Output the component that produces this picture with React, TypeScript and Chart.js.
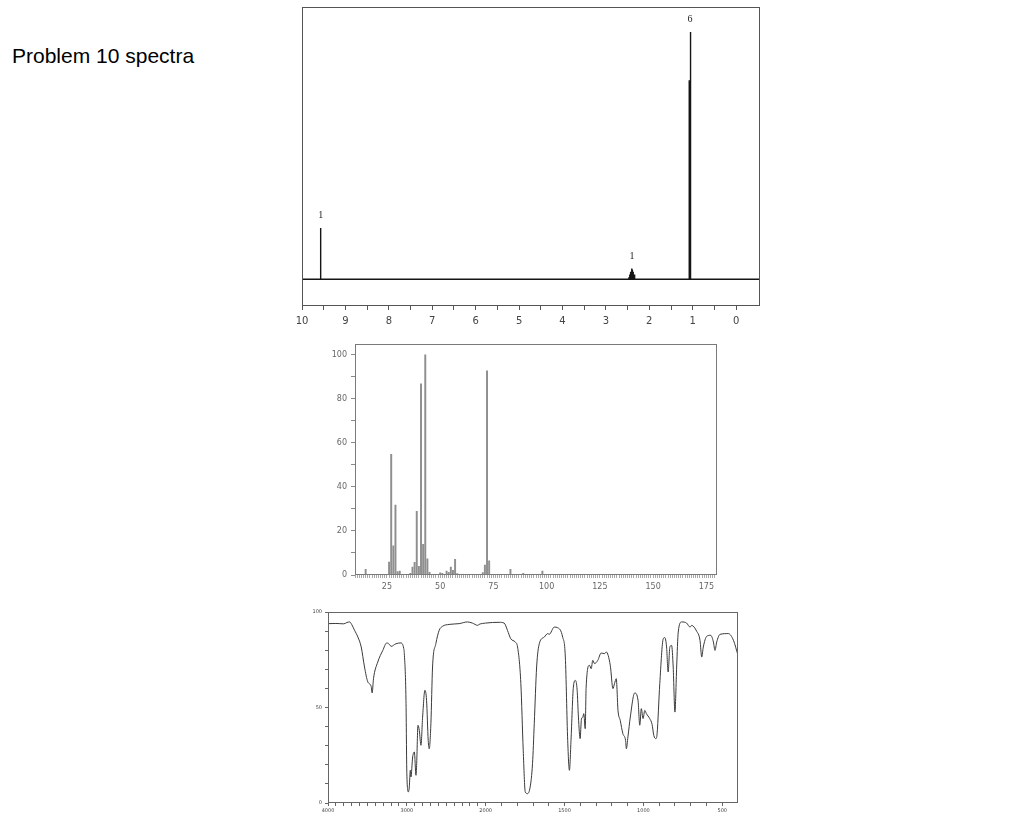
import React, { useEffect, useRef } from "react";
import { Chart, registerables } from "chart.js";

Chart.register(...registerables);

// ---------- 1H NMR (ppm) ----------
const nmrShift = [9.57, 2.47, 2.45, 2.43, 2.41, 2.4, 2.39, 2.37, 2.35, 2.33, 1.08, 1.05];
const nmrHeight = [18.8, 0.8, 1.8, 2.8, 3.6, 4.0, 3.6, 2.8, 1.8, 0.8, 73.1, 90.8];
const nmrIntegralShift = [9.57, 2.4, 1.06];
const nmrIntegralTop = [18.8, 4.0, 90.8];
const nmrIntegralText = ["1", "1", "6"];
const nmrTickValues = [10, 9.5, 9, 8.5, 8, 7.5, 7, 6.5, 6, 5.5, 5, 4.5, 4, 3.5, 3, 2.5, 2, 1.5, 1, 0.5, 0];
const nmrRange = { min: -0.55, max: 10 };

// ---------- Mass spectrum (m/z, relative intensity) ----------
const msMz = [15, 26, 27, 28, 29, 30, 31, 36, 37, 38, 39, 40, 41, 42, 43, 44, 45, 50, 51, 53, 54, 55, 56, 57, 58, 70, 71, 72, 73, 83, 89, 98];
const msIntensity = [2.6, 5.9, 54.8, 13.2, 31.7, 1.5, 1.8, 0.8, 3.6, 5.8, 28.9, 3.9, 86.8, 13.9, 100, 7.4, 1.2, 1.0, 0.8, 1.8, 1.2, 3.6, 2.1, 7.1, 0.6, 1.1, 4.5, 92.7, 6.4, 2.6, 0.8, 1.8];
const msYTicks = [0, 10, 20, 30, 40, 50, 60, 70, 80, 90, 100];
const msXLabels = [25, 50, 75, 100, 125, 150, 175];

// ---------- IR (wavenumber cm-1, %T) ----------
const irWavenumber = [
  4000, 3900, 3800, 3760, 3726, 3700, 3663, 3621, 3579, 3537, 3495, 3453, 3440, 3423, 3369, 3305, 3255, 3220,
  3200, 3137, 3074, 3040, 3032, 3011, 3000, 2981, 2969, 2956, 2948, 2926, 2905, 2884, 2876, 2859, 2842, 2821,
  2800, 2771, 2750, 2729, 2716, 2695, 2674, 2632, 2590, 2548, 2463, 2337, 2232, 2169, 2100, 2084, 2000, 1915,
  1883, 1862, 1841, 1813, 1798, 1777, 1762, 1749, 1735, 1718, 1703, 1692, 1677, 1660, 1628, 1607, 1597, 1565,
  1544, 1512, 1495, 1480, 1469, 1459, 1444, 1431, 1420, 1412, 1401, 1393, 1384, 1378, 1369, 1363, 1342, 1331,
  1321, 1310, 1289, 1268, 1246, 1236, 1210, 1193, 1183, 1172, 1161, 1147, 1130, 1113, 1108, 1098, 1083, 1055,
  1034, 1023, 1013, 1002, 991, 981, 960, 945, 934, 921, 913, 896, 874, 864, 853, 843, 832, 821, 811, 800, 789,
  779, 757, 726, 704, 694, 662, 641, 630, 620, 598, 573, 556, 546, 535, 514, 461, 429, 400,
];
const irTransmittance = [
  93.9, 94.0, 93.8, 94.5, 94.8, 93.5, 90.4, 86.9, 81.7, 71.2, 63.4, 61.1, 57.6, 65.1, 73.8, 79.9, 83.8, 83.0,
  82.0, 83.4, 83.8, 81.0, 78.2, 53.8, 15.4, 5.8, 8.4, 17.1, 13.6, 24.1, 26.7, 14.5, 19.7, 40.7, 38.0, 30.2,
  45.0, 59.0, 53.8, 32.8, 28.4, 41.5, 71.2, 83.4, 90.4, 92.5, 93.5, 93.9, 94.8, 94.2, 93.0, 93.5, 94.2, 94.6,
  94.2, 90.4, 86.0, 84.3, 81.7, 62.5, 27.6, 5.8, 4.9, 8.4, 20.6, 41.5, 71.2, 83.4, 86.9, 88.7, 88.3, 92.1,
  91.8, 86.9, 76.4, 32.8, 17.1, 32.8, 60.7, 64.2, 59.0, 45.0, 33.7, 43.9, 45.0, 46.8, 38.9, 60.7, 72.1, 70.3,
  74.7, 73.0, 74.7, 78.5, 78.2, 79.1, 72.1, 59.9, 62.5, 65.1, 48.5, 43.3, 36.3, 32.8, 28.4, 34.6, 45.0, 57.6,
  53.8, 40.7, 49.4, 44.2, 48.5, 46.8, 44.2, 41.2, 35.4, 33.7, 36.3, 62.5, 86.0, 86.6, 81.7, 68.6, 81.7, 82.5, 71.2, 47.6, 71.2,
  89.5, 94.8, 94.2, 92.1, 93.0, 89.9, 85.2, 76.4, 81.7, 87.3, 87.8, 84.3, 79.9, 84.3, 88.3, 88.7, 85.2, 77.3,
];
const irLabelled = [4000, 3000, 2000, 1500, 1000, 500];
const irYTicks = [0, 10, 20, 30, 40, 50, 60, 70, 80, 90, 100];

// The IR axis is compressed 2:1 above 2000 cm-1; map wavenumber to axis units and back.
const irAxis = (wn: number) => (wn >= 2000 ? (4000 - wn) / 2 : 1000 + (2000 - wn));
const irWavenumberOf = (u: number) => (u <= 1000 ? 4000 - 2 * u : 2000 - (u - 1000));

const framePlugin = (color: string) => ({
  id: "frame",
  afterDraw(chart: any) {
    const { ctx, chartArea } = chart;
    const { left, top, right, bottom } = chartArea;
    ctx.save();
    ctx.strokeStyle = color;
    ctx.lineWidth = 1;
    ctx.strokeRect(Math.round(left) + 0.5, Math.round(top) + 0.5, Math.round(right - left) - 1, Math.round(bottom - top) - 1);
    ctx.restore();
  },
});

const integralPlugin = {
  id: "integrals",
  afterDatasetsDraw(chart: any) {
    const { ctx } = chart;
    const x = chart.scales.x;
    const y = chart.scales.y;
    ctx.save();
    ctx.font = '10px "Liberation Serif"';
    ctx.fillStyle = "#222";
    ctx.textAlign = "center";
    ctx.textBaseline = "middle";
    nmrIntegralShift.forEach((s, i) => {
      ctx.fillText(nmrIntegralText[i], x.getPixelForValue(s), y.getPixelForValue(nmrIntegralTop[i]) - 12.5);
    });
    ctx.restore();
  },
};

function nmrTrace() {
  const pts: { x: number; y: number }[] = [{ x: nmrRange.max, y: 0 }];
  const order = nmrShift.map((s, i) => i).sort((a, b) => nmrShift[b] - nmrShift[a]);
  order.forEach((i) => {
    pts.push({ x: nmrShift[i], y: 0 }, { x: nmrShift[i], y: nmrHeight[i] }, { x: nmrShift[i], y: 0 });
  });
  pts.push({ x: nmrRange.min, y: 0 });
  return pts;
}

const base = {
  animation: false as const,
  responsive: false,
  maintainAspectRatio: false,
  devicePixelRatio: 1,
  events: [] as any[],
};

function nmrConfig(): any {
  return {
    type: "line",
    data: {
      datasets: [
        { data: nmrTrace(), borderColor: "#151515", borderWidth: 1.4, pointRadius: 0, tension: 0, fill: false },
      ],
    },
    options: {
      ...base,
      layout: { padding: { left: 12, right: 10, top: 7, bottom: 4 } },
      plugins: { legend: { display: false }, tooltip: { enabled: false } },
      scales: {
        x: {
          type: "linear",
          min: nmrRange.min,
          max: nmrRange.max,
          reverse: true,
          afterBuildTicks: (s: any) => {
            s.ticks = nmrTickValues.map((v) => ({ value: v }));
          },
          afterFit: (s: any) => {
            s.height = 30;
          },
          grid: { drawOnChartArea: false, tickLength: 4, color: "#555" },
          border: { display: false },
          ticks: {
            autoSkip: false,
            maxRotation: 0,
            padding: 5,
            color: "#444",
            font: { family: "DejaVu Sans", size: 10 },
            callback: (v: number) => (Number.isInteger(v) ? String(v) : ""),
          },
        },
        y: { display: false, min: -9.8, max: 100 },
      },
    },
    plugins: [framePlugin("#555"), integralPlugin],
  };
}

function msConfig(): any {
  const xTicks: number[] = [];
  for (let m = 10; m <= 179; m++) xTicks.push(m);
  return {
    type: "bar",
    data: {
      datasets: [
        {
          data: msMz.map((m, i) => ({ x: m, y: msIntensity[i] })),
          backgroundColor: "#8f8f8f",
          borderWidth: 0,
          barThickness: 1.3,
        },
      ],
    },
    options: {
      ...base,
      layout: { padding: { left: 0, right: 13, top: 8, bottom: 0 } },
      plugins: { legend: { display: false }, tooltip: { enabled: false } },
      scales: {
        x: {
          type: "linear",
          min: 10,
          max: 180,
          offset: false,
          afterBuildTicks: (s: any) => {
            s.ticks = xTicks.map((v) => ({ value: v }));
          },
          afterFit: (s: any) => {
            s.height = 25;
          },
          grid: { offset: false, drawOnChartArea: false, tickLength: 3, color: "#a8a8a8" },
          border: { display: false },
          ticks: {
            autoSkip: false,
            maxRotation: 0,
            padding: 4,
            color: "#666",
            font: { family: "DejaVu Sans", size: 8 },
            callback: (v: number) => (msXLabels.includes(v) ? String(v) : ""),
          },
        },
        y: {
          min: 0,
          max: 105,
          afterBuildTicks: (s: any) => {
            s.ticks = msYTicks.map((v) => ({ value: v }));
          },
          afterFit: (s: any) => {
            s.width = 45;
          },
          grid: { drawOnChartArea: false, tickLength: 4, color: "#8a8a8a" },
          border: { display: false },
          ticks: {
            padding: 4,
            color: "#666",
            font: { family: "DejaVu Sans", size: 8 },
            callback: (v: number) => (v % 20 === 0 ? String(v) : ""),
          },
        },
      },
    },
    plugins: [framePlugin("#7a7a7a")],
  };
}

function irConfig(): any {
  const xTicks: number[] = [];
  for (let wn = 4000; wn >= 500; wn -= 100) xTicks.push(irAxis(wn));
  return {
    type: "line",
    data: {
      datasets: [
        {
          data: irWavenumber.map((wn, i) => ({ x: irAxis(wn), y: irTransmittance[i] })),
          borderColor: "#3a3a3a",
          borderWidth: 1,
          pointRadius: 0,
          cubicInterpolationMode: "monotone",
          fill: false,
        },
      ],
    },
    options: {
      ...base,
      layout: { padding: { left: 0, right: 12, top: 12, bottom: 4 } },
      plugins: { legend: { display: false }, tooltip: { enabled: false } },
      scales: {
        x: {
          type: "linear",
          min: 0,
          max: irAxis(400),
          afterBuildTicks: (s: any) => {
            s.ticks = xTicks.map((v) => ({ value: v }));
          },
          afterFit: (s: any) => {
            s.height = 20;
          },
          grid: { drawOnChartArea: false, tickLength: 3, color: "#666" },
          border: { display: false },
          ticks: {
            autoSkip: false,
            maxRotation: 0,
            padding: 2,
            color: "#444",
            font: { family: "DejaVu Sans", size: 5 },
            callback: (v: number) => {
              const wn = Math.round(irWavenumberOf(v));
              return irLabelled.includes(wn) ? String(wn) : "";
            },
          },
        },
        y: {
          min: 0,
          max: 100,
          afterBuildTicks: (s: any) => {
            s.ticks = irYTicks.map((v) => ({ value: v }));
          },
          afterFit: (s: any) => {
            s.width = 38;
          },
          grid: { drawOnChartArea: false, tickLength: 3, color: "#666" },
          border: { display: false },
          ticks: {
            padding: 3,
            color: "#444",
            font: { family: "DejaVu Sans", size: 5 },
            callback: (v: number) => (v % 50 === 0 ? String(v) : ""),
          },
        },
      },
    },
    plugins: [framePlugin("#666")],
  };
}

function ChartCanvas(props: { left: number; top: number; width: number; height: number; make: () => any }) {
  const ref = useRef<HTMLCanvasElement>(null);
  useEffect(() => {
    const chart = new Chart(ref.current as HTMLCanvasElement, props.make());
    return () => chart.destroy();
  }, []);
  return (
    <canvas
      ref={ref}
      width={props.width}
      height={props.height}
      style={{ position: "absolute", left: props.left, top: props.top, width: props.width, height: props.height }}
    />
  );
}

export default function App() {
  return (
    <div style={{ position: "absolute", left: 0, top: 0, width: 1024, height: 827, background: "#fff", overflow: "hidden" }}>
      <div
        style={{
          position: "absolute",
          left: 12,
          top: 44,
          fontFamily: '"Liberation Sans", Arial, sans-serif',
          fontSize: 21,
          lineHeight: "24px",
          color: "#000",
          whiteSpace: "nowrap",
        }}
      >
        Problem 10 spectra
      </div>
      <ChartCanvas left={290} top={0} width={480} height={340} make={nmrConfig} />
      <ChartCanvas left={310} top={335} width={420} height={265} make={msConfig} />
      <ChartCanvas left={290} top={600} width={460} height={227} make={irConfig} />
    </div>
  );
}
